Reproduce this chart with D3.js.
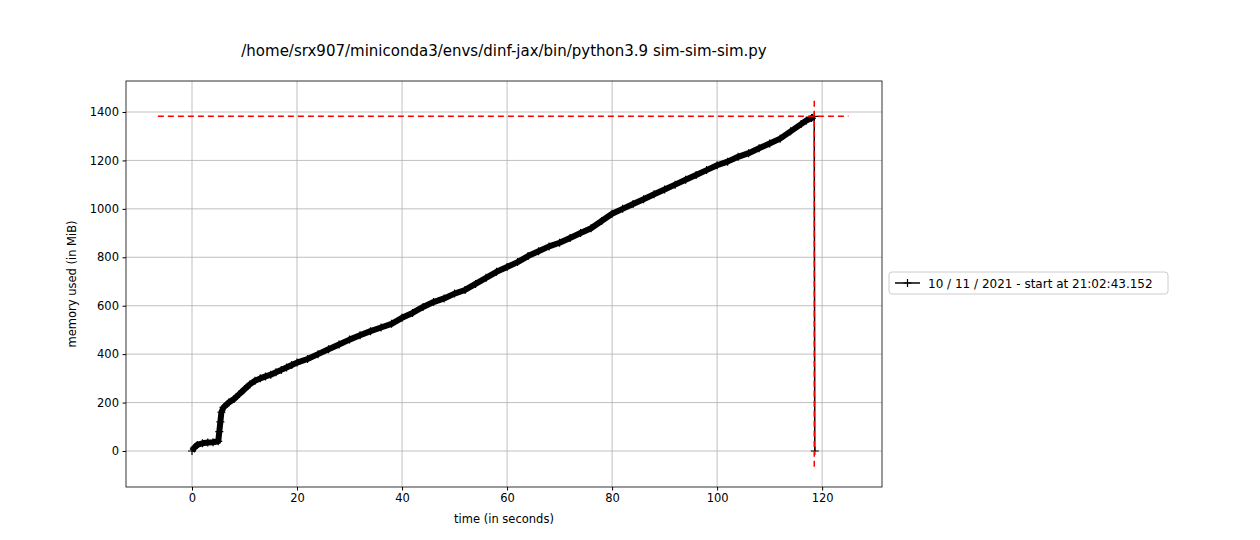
<!DOCTYPE html><html><head><meta charset="utf-8"><script src="https://cdn.jsdelivr.net/npm/d3@7"></script>
<style>body{margin:0;background:#fff}text{font-family:"DejaVu Sans",sans-serif}</style></head><body><svg id="c" width="1260" height="540"></svg><script>
const times=[0,0.5,1,2,3,4,5,5.2,5.4,5.6,6,7,8,9,10,11,12,13,14,15,16,17,18,19,20,22,24,26,28,30,32,34,36,38,40,42,44,46,48,50,52,54,56,58,60,62,64,66,68,70,72,74,76,78,80,82,84,86,88,90,92,94,96,98,100,102,104,106,108,110,112,114,116,117,118,118.5,118.6];
const memory=[0,15,25,32,35,36,40,80,120,160,180,200,215,235,255,275,290,300,308,315,325,335,345,355,365,380,400,420,440,460,478,495,510,525,550,570,595,615,630,650,665,690,715,740,760,780,805,825,845,860,880,900,920,950,980,1000,1020,1040,1060,1080,1100,1120,1140,1160,1180,1195,1215,1230,1250,1270,1290,1320,1350,1365,1375,1382,0];
const xTicks=[0,20,40,60,80,100,120], yTicks=[0,200,400,600,800,1000,1200,1400];
const title="/home/srx907/miniconda3/envs/dinf-jax/bin/python3.9 sim-sim-sim.py";
const legendLabel="10 / 11 / 2021 - start at 21:02:43.152";
const peakT=118.5, peakM=1382;
const svg=d3.select("#c");
const L=126,R=882,T=81,B=487;
const x=d3.scaleLinear().domain([-12.57,131.4]).range([L,R]);
const y=d3.scaleLinear().domain([-148.7,1528]).range([B,T]);
const g=svg.append("g");
xTicks.forEach(t=>g.append("line").attr("x1",x(t)).attr("x2",x(t)).attr("y1",T).attr("y2",B).attr("stroke","#b0b0b0").attr("stroke-width",0.8));
yTicks.forEach(t=>g.append("line").attr("y1",y(t)).attr("y2",y(t)).attr("x1",L).attr("x2",R).attr("stroke","#b0b0b0").attr("stroke-width",0.8));
const ax=svg.append("g").attr("transform",`translate(0,${B})`).call(d3.axisBottom(x).tickValues(xTicks).tickFormat(d3.format("d")).tickSize(3.5).tickPadding(3.5));
const ay=svg.append("g").attr("transform",`translate(${L},0)`).call(d3.axisLeft(y).tickValues(yTicks).tickFormat(d3.format("d")).tickSize(3.5).tickPadding(3.5));
[ax,ay].forEach(a=>{a.select(".domain").remove();a.selectAll("text").attr("font-size",11.5).attr("font-family","DejaVu Sans").attr("fill","#000");});
svg.append("rect").attr("x",L).attr("y",T).attr("width",R-L).attr("height",B-T).attr("fill","none").attr("stroke","#000").attr("stroke-width",0.8);
const data=times.map((t,i)=>[t,memory[i]]);
const line=d3.line().x(d=>x(d[0])).y(d=>y(d[1]));
svg.append("path").datum(data.slice(0,-1)).attr("d",line).attr("fill","none").attr("stroke","#000").attr("stroke-width",6).attr("stroke-linejoin","round");
svg.append("path").datum(data).attr("d",line).attr("fill","none").attr("stroke","#000").attr("stroke-width",1.5);
svg.append("g").selectAll("path").data(data).join("path").attr("d",d=>`M${x(d[0])-4},${y(d[1])}h8M${x(d[0])},${y(d[1])-4}v8`).attr("stroke","#000").attr("stroke-width",1.2);
svg.append("line").attr("x1",x(-6.5)).attr("x2",x(125)).attr("y1",y(peakM)).attr("y2",y(peakM)).attr("stroke","red").attr("stroke-width",1.5).attr("stroke-dasharray","6,4");
svg.append("line").attr("x1",x(peakT)).attr("x2",x(peakT)).attr("y1",y(-65)).attr("y2",y(1450)).attr("stroke","red").attr("stroke-width",1.5).attr("stroke-dasharray","6,4");
svg.append("text").attr("x",504).attr("y",56).attr("text-anchor","middle").attr("font-size",15).text(title);
svg.append("text").attr("x",(L+R)/2).attr("y",523).attr("text-anchor","middle").attr("font-size",11.5).text("time (in seconds)");
svg.append("text").attr("transform",`translate(76,${(T+B)/2}) rotate(-90)`).attr("text-anchor","middle").attr("font-size",11.5).text("memory used (in MiB)");
const lg=svg.append("g");
lg.append("rect").attr("x",889).attr("y",272).attr("width",279).attr("height",22).attr("rx",3).attr("fill","#fff").attr("stroke","#ccc");
lg.append("line").attr("x1",895).attr("x2",920).attr("y1",283).attr("y2",283).attr("stroke","#000").attr("stroke-width",1.5);
lg.append("path").attr("d","M903.5,283h8M907.5,279v8").attr("stroke","#000").attr("stroke-width",1.2);
lg.append("text").attr("x",928).attr("y",287.5).attr("font-size",12).text(legendLabel);
</script></body></html>
